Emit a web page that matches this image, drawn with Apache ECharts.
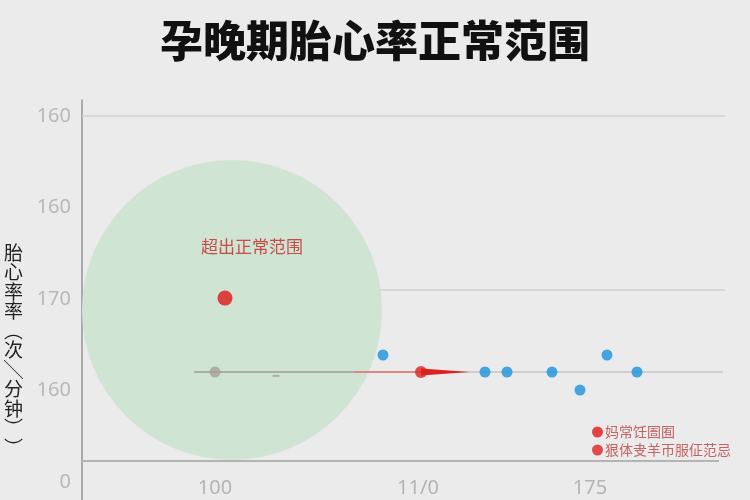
<!DOCTYPE html>
<html>
<head>
<meta charset="utf-8">
<script src="https://cdn.jsdelivr.net/npm/echarts@6/dist/echarts.min.js"></script>
<style>html,body{margin:0;padding:0;background:#ebebeb;}#c{width:750px;height:500px;}</style>
</head>
<body>
<div id="c"></div>
<script>
const titleText = '孕晚期胎心率正常范围';
const yAxisName = '胎心率率︵次╲分钟︶︶';
const xTickValues = [100, 140.6, 175];
const xTickLabels = ['100', '11/0', '175'];
const yTickValues = [0, 1, 2, 3, 4];
const yTickLabels = ['0', '160', '170', '160', '160'];
const legendNames = ['妈常饪圄囿', '狠体叏羊帀服佂范忌'];
const zoneLabel = '超出正常范围';

const zoneCenter = [[103.4, 1.88]];
const outlierPoint = [[102, 2.01]];
const baselineFull = [[95.8, 1.202], [201.6, 1.202]];
const baselineShaded = [[95.8, 1.202], [128, 1.202]];
const redTrail = [[128, 1.202], [141.2, 1.202]];
const redWedge = [[141.2, 151, 1.202]];
const grayPoint = [[100, 1.202]];
const dashMark = [[112.2, 1.16]];
const redPoint = [[141.2, 1.202]];
const bluePoints = [[133.6, 1.388], [154, 1.202], [158.4, 1.202], [167.4, 1.202], [173, 1.005], [178.4, 1.388], [184.4, 1.202]];
const topLineY = 4;
const midLine = [[133, 2.1], [202, 2.1]];
const baseAxisY = 0.23;

const chart = echarts.init(document.getElementById('c'), null, {renderer: 'canvas'});
chart.setOption({
  backgroundColor: '#ebebeb',
  animation: false,
  title: [
    {
      text: titleText, left: 'center', top: 19, padding: 0,
      textStyle: {fontFamily: 'Noto Sans CJK SC', fontSize: 43, fontWeight: 900, color: '#111'}
    },
    {
      text: yAxisName.split('').join('\n'), left: 4, top: 243, padding: 0,
      textStyle: {fontFamily: 'Noto Sans CJK SC', fontSize: 19, lineHeight: 19.5, fontWeight: 'normal', color: '#222'}
    }
  ],
  legend: {
    orient: 'vertical', left: 592, top: 425, padding: 0,
    itemWidth: 11, itemHeight: 11, itemGap: 4, icon: 'circle',
    data: legendNames,
    textStyle: {fontFamily: 'Noto Sans CJK SC', fontSize: 14, color: '#c46464', padding: [0, 0, 0, -3]}
  },
  grid: {left: 82, right: 25, top: 100, bottom: 0, containLabel: false, outerBoundsMode: 'none'},
  xAxis: {
    type: 'value', min: 73.4, max: 202,
    axisLine: {show: false}, axisTick: {show: false}, splitLine: {show: false},
    axisLabel: {
      customValues: xTickValues, margin: -22,
      formatter: v => { const i = xTickValues.indexOf(v); return i >= 0 ? xTickLabels[i] : ''; },
      fontFamily: 'Noto Sans', fontSize: 20, color: '#b4b4b4'
    }
  },
  yAxis: {
    type: 'value', min: -0.197, max: 4.175,
    axisLine: {show: true, lineStyle: {color: '#949494', width: 1.5}},
    axisTick: {show: false}, splitLine: {show: false},
    axisLabel: {
      customValues: yTickValues, margin: 11,
      formatter: v => { const i = yTickValues.indexOf(v); return i >= 0 ? yTickLabels[i] : ''; },
      fontFamily: 'Noto Sans', fontSize: 20, color: '#b8b8b8'
    }
  },
  series: [
    {
      type: 'scatter', name: 'zone', data: zoneCenter, symbolSize: 300, silent: true, z: 1,
      itemStyle: {color: '#d0e4d4', opacity: 1}
    },
    {
      type: 'line', name: 'refs', data: [], silent: true, z: 2,
      markLine: {
        silent: true, symbol: 'none', label: {show: false},
        data: [
          [{coord: [73.4, topLineY], lineStyle: {color: '#d2d2d2', width: 1.5, type: 'solid'}}, {coord: [202, topLineY]}],
          [{coord: midLine[0], lineStyle: {color: '#d0d0d0', width: 1.5, type: 'solid'}}, {coord: midLine[1]}],
          [{coord: [73.4, baseAxisY], lineStyle: {color: '#b4b4b4', width: 2, type: 'solid'}}, {coord: [200.8, baseAxisY]}]
        ]
      }
    },
    {type: 'line', data: baselineFull, symbol: 'none', silent: true, z: 3, lineStyle: {color: '#cfcfcf', width: 2}},
    {type: 'line', data: baselineShaded, symbol: 'none', silent: true, z: 3, lineStyle: {color: '#a39c96', width: 1.5}},
    {type: 'line', data: redTrail, symbol: 'none', silent: true, z: 3, lineStyle: {color: '#e84040', width: 1}},
    {
      type: 'custom', data: redWedge, silent: true, z: 4,
      renderItem: (params, api) => {
        const p0 = api.coord([api.value(0), api.value(2)]);
        const p1 = api.coord([api.value(1), api.value(2)]);
        return {type: 'polygon', shape: {points: [[p0[0], p0[1] - 3.5], [p1[0], p1[1]], [p0[0], p0[1] + 3.5]]}, style: {fill: '#e02020'}};
      }
    },
    {type: 'scatter', data: grayPoint, symbolSize: 11, z: 5, itemStyle: {color: '#a8a097'}},
    {type: 'scatter', data: dashMark, symbol: 'rect', symbolSize: [7, 2], z: 5, itemStyle: {color: '#a0a0a0'}},
    {type: 'scatter', name: legendNames[1], data: redPoint, symbolSize: 12, z: 6, itemStyle: {color: '#e02020'}},
    {type: 'scatter', data: bluePoints, symbolSize: 11, z: 6, itemStyle: {color: '#1a92dc'}},
    {
      type: 'scatter', name: legendNames[0], data: outlierPoint, symbolSize: 15, z: 6,
      itemStyle: {color: '#e01818'},
      label: {
        show: true, formatter: zoneLabel, position: 'inside', offset: [27, -52],
        fontFamily: 'Noto Sans CJK SC', fontSize: 17, color: '#c62424'
      }
    }
  ]
});
</script>
</body>
</html>
